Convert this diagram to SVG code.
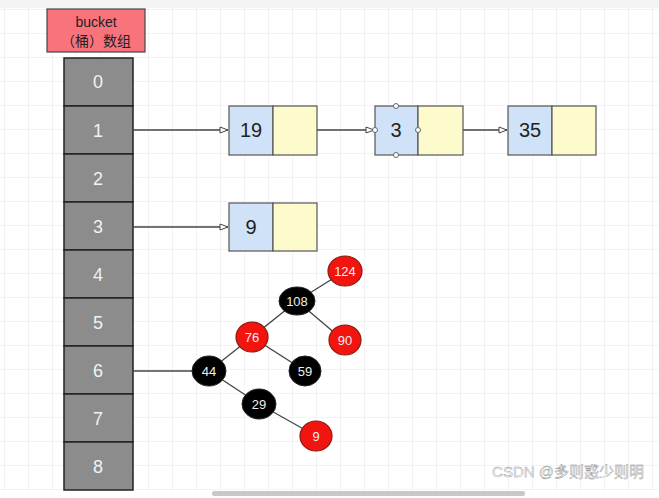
<svg xmlns="http://www.w3.org/2000/svg" width="659" height="498" viewBox="0 0 659 498">
<defs>
<pattern id="grid" width="24" height="24" patternUnits="userSpaceOnUse" x="5" y="10">
<path d="M24 0V24H0" fill="none" stroke="#e6e6e6" stroke-width="1"/>
</pattern>
<marker id="ar" markerWidth="10" markerHeight="8" refX="9" refY="4" orient="auto" markerUnits="userSpaceOnUse">
<path d="M1 1L9 4L1 7Z" fill="#fff" stroke="#444" stroke-width="1"/>
</marker>
<style>
.cell{fill:#8c8c8c;stroke:#222;stroke-width:1.5}
.ct{font-family:"Liberation Sans",sans-serif;font-size:18px;fill:#f2f2f2;text-anchor:middle}
.k{fill:#cfe2f7;stroke:#555;stroke-width:1.2}
.v{fill:#fdfbcc;stroke:#555;stroke-width:1.2}
.kt{font-family:"Liberation Sans",sans-serif;font-size:20px;fill:#222;text-anchor:middle}
.red{fill:#f2140f;stroke:#8a1a10;stroke-width:1.2}
.blk{fill:#000;stroke:#222}
.nt{font-family:"Liberation Sans",sans-serif;font-size:13px;fill:#eee;text-anchor:middle}
.ln{stroke:#444;stroke-width:1.3;fill:none}
.h{fill:#fff;stroke:#666;stroke-width:1}
</style>
</defs>
<rect width="659" height="498" fill="#fff"/>
<rect x="0" y="8" width="659" height="482" fill="url(#grid)"/>
<rect x="0" y="0" width="659" height="8" fill="#f4f4f4"/>
<g id="label">
<rect x="47" y="9" width="98" height="43" fill="#f9737d" stroke="#444" stroke-width="1.2"/>
<text x="96" y="27" font-family="Liberation Sans,sans-serif" font-size="14" fill="#222" text-anchor="middle">bucket</text>
<text x="96" y="46" font-family="Liberation Sans,'Noto Sans CJK SC',sans-serif" font-size="14" fill="#222" text-anchor="middle">（桶）数组</text>
</g>
<g id="bucket">
<rect class="cell" x="64" y="58" width="69" height="48"/><text class="ct" x="98" y="88" font-size="14">0</text>
<rect class="cell" x="64" y="106" width="69" height="48"/><text class="ct" x="98" y="137">1</text>
<rect class="cell" x="64" y="154" width="69" height="48"/><text class="ct" x="98" y="185">2</text>
<rect class="cell" x="64" y="202" width="69" height="48"/><text class="ct" x="98" y="233">3</text>
<rect class="cell" x="64" y="250" width="69" height="48"/><text class="ct" x="98" y="281">4</text>
<rect class="cell" x="64" y="298" width="69" height="48"/><text class="ct" x="98" y="329">5</text>
<rect class="cell" x="64" y="346" width="69" height="48"/><text class="ct" x="98" y="377">6</text>
<rect class="cell" x="64" y="394" width="69" height="48"/><text class="ct" x="98" y="425">7</text>
<rect class="cell" x="64" y="442" width="69" height="48"/><text class="ct" x="98" y="473">8</text>
</g>
<g id="connectors">
<line class="ln" x1="133" y1="130" x2="228" y2="130" marker-end="url(#ar)"/>
<line class="ln" x1="317" y1="130" x2="374" y2="130" marker-end="url(#ar)"/>
<line class="ln" x1="463" y1="130" x2="507" y2="130" marker-end="url(#ar)"/>
<line class="ln" x1="133" y1="227" x2="228" y2="227" marker-end="url(#ar)"/>
<line class="ln" x1="133" y1="371" x2="192" y2="371"/>
<line class="ln" x1="297" y1="301" x2="345" y2="271"/>
<line class="ln" x1="297" y1="301" x2="252" y2="337"/>
<line class="ln" x1="297" y1="301" x2="343" y2="340"/>
<line class="ln" x1="252" y1="337" x2="209" y2="371"/>
<line class="ln" x1="252" y1="337" x2="305" y2="371"/>
<line class="ln" x1="209" y1="371" x2="259" y2="404"/>
<line class="ln" x1="259" y1="404" x2="316" y2="436"/>
</g>
<g id="n19"><rect class="k" x="229" y="106" width="44" height="49"/><rect class="v" x="273" y="106" width="44" height="49"/><text class="kt" x="251" y="137">19</text></g>
<g id="n3"><rect class="k" x="375" y="106" width="43" height="49"/><rect class="v" x="418" y="106" width="45" height="49"/><text class="kt" x="396" y="137">3</text>
<circle class="h" cx="396" cy="106" r="2.5"/><circle class="h" cx="396" cy="155" r="2.5"/><circle class="h" cx="375" cy="130" r="2.5"/><circle class="h" cx="418" cy="130" r="2.5"/></g>
<g id="n35"><rect class="k" x="508" y="106" width="44" height="49"/><rect class="v" x="552" y="106" width="44" height="49"/><text class="kt" x="530" y="137">35</text></g>
<g id="n9a"><rect class="k" x="229" y="203" width="44" height="48"/><rect class="v" x="273" y="203" width="44" height="48"/><text class="kt" x="251" y="234">9</text></g>
<g id="t124"><ellipse class="red" cx="345" cy="271" rx="17" ry="15"/><text class="nt" x="345" y="276">124</text></g>
<g id="t108"><ellipse class="blk" cx="297" cy="301" rx="18" ry="14"/><text class="nt" x="297" y="306">108</text></g>
<g id="t76"><ellipse class="red" cx="252" cy="337" rx="16" ry="15"/><text class="nt" x="252" y="342">76</text></g>
<g id="t90"><ellipse class="red" cx="345" cy="340" rx="16" ry="15"/><text class="nt" x="345" y="345">90</text></g>
<g id="t44"><ellipse class="blk" cx="209" cy="371" rx="17" ry="15"/><text class="nt" x="209" y="376">44</text></g>
<g id="t59"><ellipse class="blk" cx="305" cy="371" rx="16" ry="15"/><text class="nt" x="305" y="376">59</text></g>
<g id="t29"><ellipse class="blk" cx="259" cy="404" rx="17" ry="15"/><text class="nt" x="259" y="409">29</text></g>
<g id="t9"><ellipse class="red" cx="316" cy="436" rx="16" ry="15"/><text class="nt" x="316" y="441">9</text></g>
<rect x="212" y="491" width="313" height="5" rx="2" fill="#c8c8c8"/>
<text x="644" y="477" font-family="Liberation Sans,'Noto Sans CJK SC',sans-serif" font-size="15" fill="#fff" stroke="#888" stroke-width="0.4" text-anchor="end">CSDN @多则惑少则明</text>
</svg>
